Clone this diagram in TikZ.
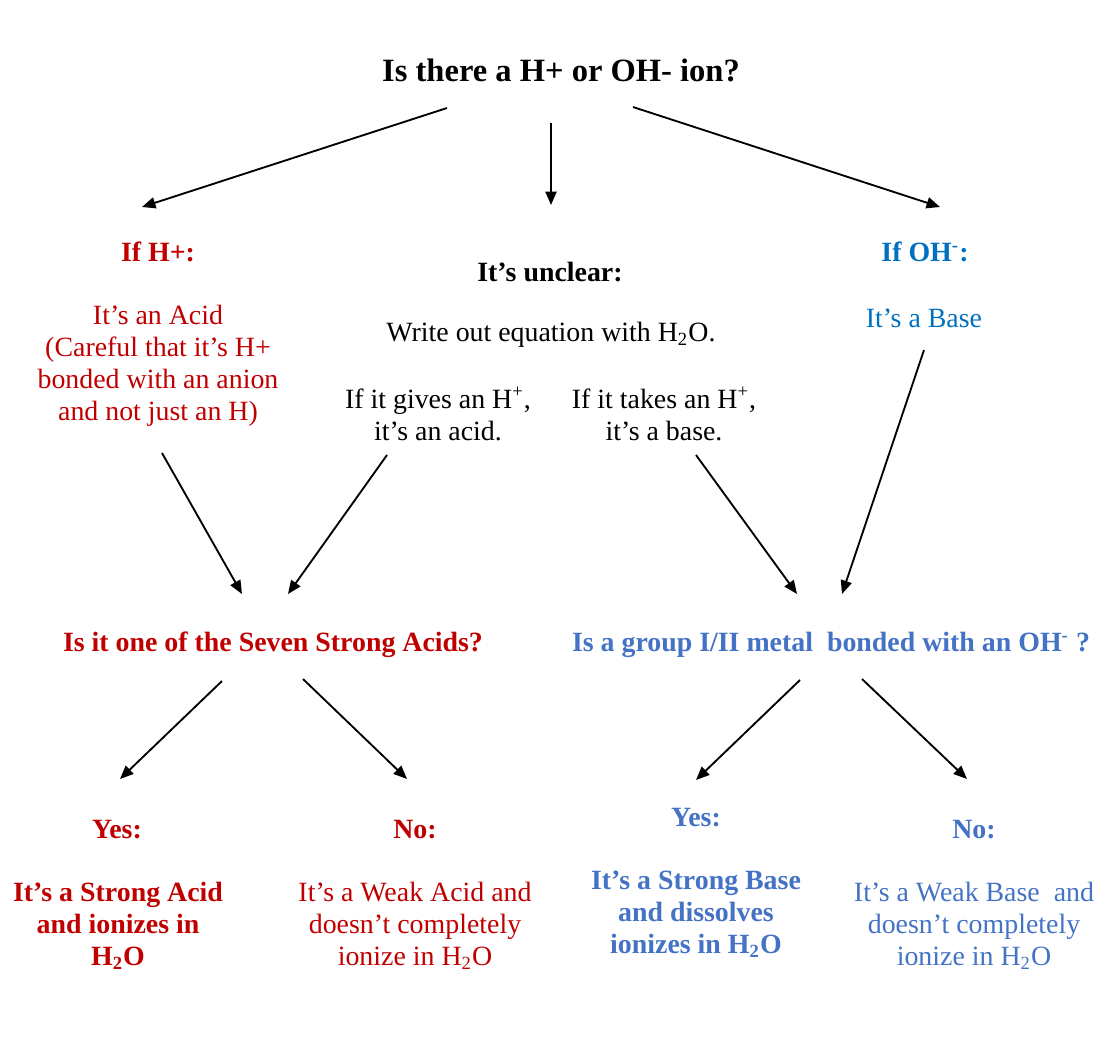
\documentclass[tikz,border=0pt]{standalone}
\usepackage{fontspec}
\setmainfont{Liberation Serif}
\usetikzlibrary{arrows.meta}
\definecolor{acidred}{RGB}{192,0,0}
\definecolor{baseblue}{RGB}{0,112,192}
\definecolor{qblue}{RGB}{68,114,196}
\tikzset{
  txt/.style={align=center, inner sep=0pt, font=\fontsize{12}{13.8}\selectfont},
  hdr/.style={txt, font=\fontsize{12}{13.8}\selectfont\bfseries},
  arr/.style={-{Triangle[length=5.8pt,width=4.8pt]}, line width=0.8pt, black}
}
\begin{document}
\begin{tikzpicture}[x=0.4305pt, y=-0.4305pt]
\useasboundingbox (0,0) rectangle (1114,1046);
% question at the top
\node[hdr, font=\fontsize{14}{16}\selectfont\bfseries] (title) at (561,70) {Is there a H+ or OH- ion?};
% three cases
\node[hdr, acidred] (ifh) at (158,252) {If H+:};
\node[txt, acidred] (acid) at (158,366) {It’s an Acid\\(Careful that it’s H+\\bonded with an anion\\and not just an H)};
\node[hdr] (unclear) at (550,272) {It’s unclear:};
\node[txt] (writeeq) at (551,335) {Write out equation with H\textsubscript{2}O.};
\node[txt] (gives) at (438,414) {If it gives an H\textsuperscript{+},\\it’s an acid.};
\node[txt] (takes) at (664,414) {If it takes an H\textsuperscript{+},\\it’s a base.};
\node[hdr, baseblue] (ifoh) at (925,252) {If OH\textsuperscript{-}:};
\node[txt, baseblue] (base) at (924,318) {It’s a Base};
% second questions
\node[hdr, acidred] (sevenq) at (273,645) {Is it one of the Seven Strong Acids?};
\node[hdr, qblue] (groupq) at (831,645) {Is a group I/II metal\ \ bonded with an OH\textsuperscript{-} ?};
% answers
\node[hdr, acidred] (yesa) at (117,830) {Yes:};
\node[hdr, acidred] (strongacid) at (118,926) {It’s a Strong Acid\\and ionizes in\\H\textsubscript{2}O};
\node[hdr, acidred] (noa) at (415,830) {No:};
\node[txt, acidred] (weakacid) at (415,926) {It’s a Weak Acid and\\doesn’t completely\\ionize in H\textsubscript{2}O};
\node[hdr, qblue] (yesb) at (696,818) {Yes:};
\node[hdr, qblue] (strongbase) at (696,914) {It’s a Strong Base\\and dissolves\\ionizes in H\textsubscript{2}O};
\node[hdr, qblue] (nob) at (974,830) {No:};
\node[txt, qblue] (weakbase) at (974,926) {It’s a Weak Base\ \ and\\doesn’t completely\\ionize in H\textsubscript{2}O};
% arrow ends
\coordinate (t-l) at (447,108);
\coordinate (t-m) at (551,123);
\coordinate (t-r) at (633,107);
\coordinate (ifh-in) at (142,207);
\coordinate (unclear-in) at (551,205);
\coordinate (ifoh-in) at (940,207);
\coordinate (acid-out) at (162,453);
\coordinate (gives-out) at (387,455);
\coordinate (takes-out) at (696,455);
\coordinate (base-out) at (924,350);
\coordinate (sevenq-l) at (242,594);
\coordinate (sevenq-r) at (288,594);
\coordinate (groupq-l) at (797,594);
\coordinate (groupq-r) at (842,594);
\coordinate (s-l) at (222,681);
\coordinate (s-r) at (303,679);
\coordinate (g-l) at (800,680);
\coordinate (g-r) at (862,679);
\coordinate (yesa-in) at (120,779);
\coordinate (noa-in) at (407,779);
\coordinate (yesb-in) at (696,780);
\coordinate (nob-in) at (967,779);
% connectors
\draw[arr] (t-l) -- (ifh-in);
\draw[arr] (t-m) -- (unclear-in);
\draw[arr] (t-r) -- (ifoh-in);
\draw[arr] (acid-out) -- (sevenq-l);
\draw[arr] (gives-out) -- (sevenq-r);
\draw[arr] (takes-out) -- (groupq-l);
\draw[arr] (base-out) -- (groupq-r);
\draw[arr] (s-l) -- (yesa-in);
\draw[arr] (s-r) -- (noa-in);
\draw[arr] (g-l) -- (yesb-in);
\draw[arr] (g-r) -- (nob-in);
\end{tikzpicture}
\end{document}
